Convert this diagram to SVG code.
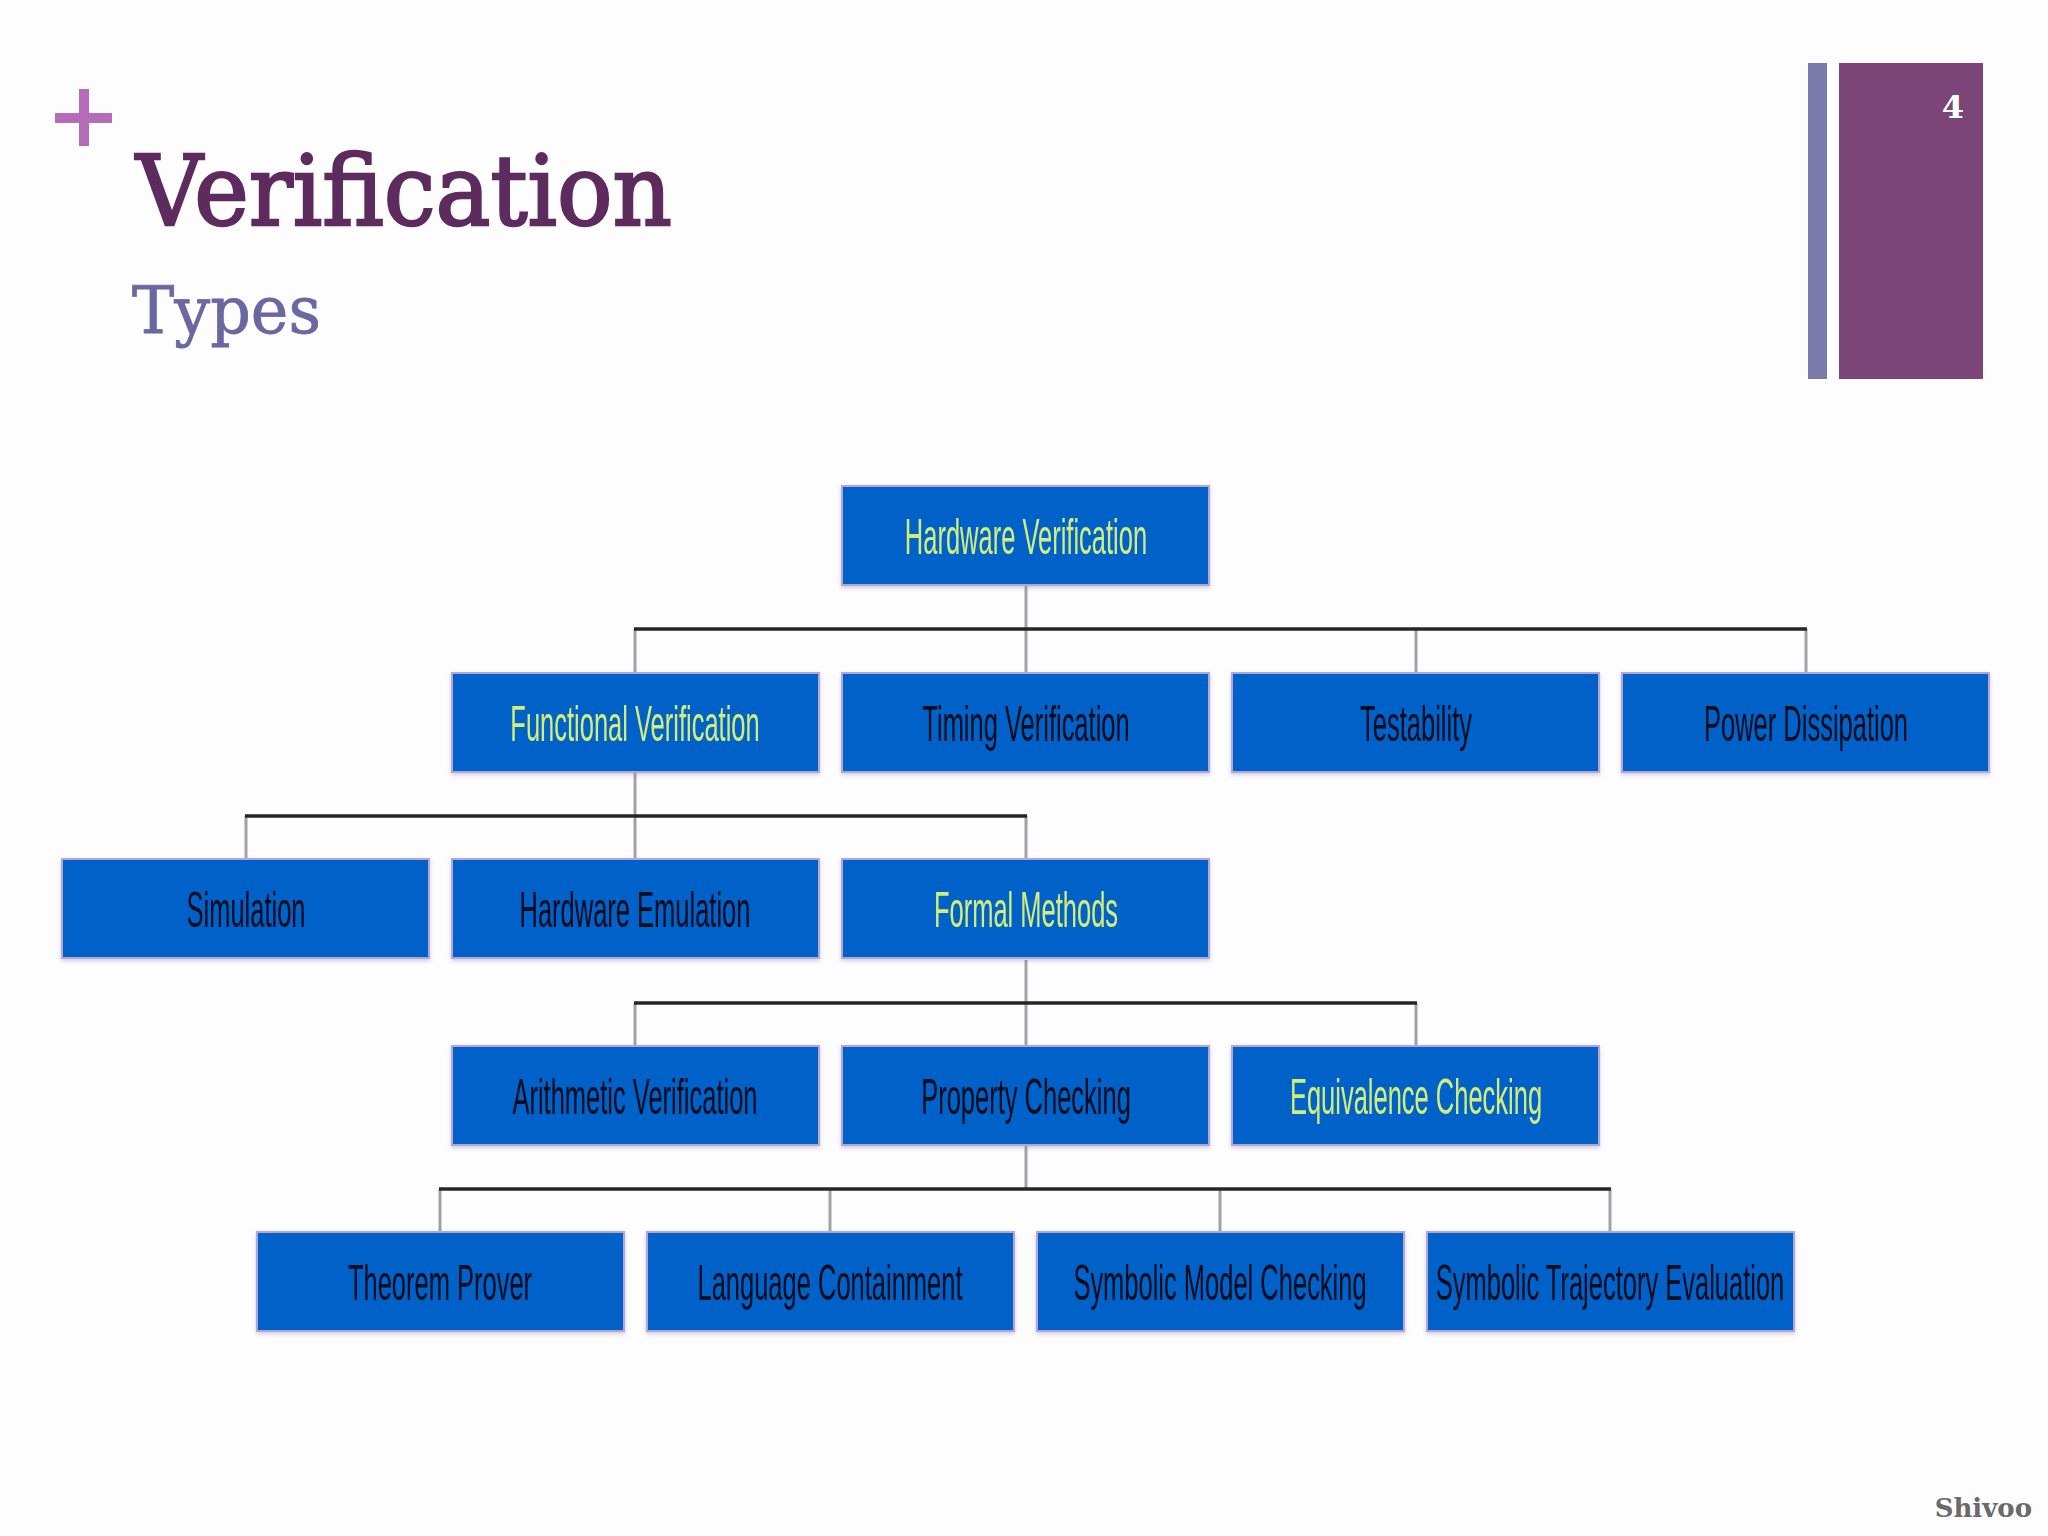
<svg xmlns="http://www.w3.org/2000/svg" width="2048" height="1536" viewBox="0 0 2048 1536">
  <style>
    .box { fill: #0562c8; stroke: #b2a6d4; stroke-width: 2; }
    .lbl { font-family: "Liberation Sans", Arial, sans-serif; font-size: 50px; text-anchor: middle; }
    .dark { fill: #050a1a; }
    .hl { fill: #d2ee78; }
    .hline { stroke: #262626; stroke-width: 3.5; fill: none; }
    .vline { stroke: #a2a2a6; stroke-width: 3; fill: none; }
  </style>
  <defs>
    <filter id="sh" x="-5%" y="-10%" width="110%" height="130%">
      <feDropShadow dx="0" dy="2" stdDeviation="2" flood-color="#8070a0" flood-opacity="0.35"/>
    </filter>
  </defs>
  <rect x="0" y="0" width="2048" height="1536" fill="#fdfdfe"/>

  <!-- header -->
  <g id="header">
    <rect x="55" y="113" width="57" height="10" fill="#b56cb8"/>
    <rect x="79" y="89" width="10" height="57" fill="#b56cb8"/>
    <text x="136" y="225" font-family="'DejaVu Serif', serif" font-size="97" fill="#5e2b5f" stroke="#5e2b5f" stroke-width="2.5" textLength="536" lengthAdjust="spacingAndGlyphs">Verification</text>
    <text x="132" y="333" font-family="'DejaVu Serif', serif" font-size="66" fill="#6a67a1" stroke="#6a67a1" stroke-width="0.8" textLength="189" lengthAdjust="spacingAndGlyphs">Types</text>
    <rect x="1808" y="63" width="19" height="316" fill="#7b7bab"/>
    <rect x="1839" y="63" width="144" height="316" fill="#7b4577"/>
    <text x="1953" y="118" font-family="'DejaVu Serif', serif" font-size="32" font-weight="bold" fill="#ffffff" text-anchor="middle">4</text>
    <text x="2032" y="1517" font-family="'DejaVu Serif', serif" font-size="26" font-weight="bold" fill="#6a6a6a" text-anchor="end">Shivoo</text>
  </g>

  <!-- connectors -->
  <g id="connectors">
    <!-- level 1 -> 2 -->
    <line class="vline" x1="1026" y1="586" x2="1026" y2="672"/>
    <line class="vline" x1="635" y1="629" x2="635" y2="672"/>
    <line class="vline" x1="1416" y1="629" x2="1416" y2="672"/>
    <line class="vline" x1="1806" y1="629" x2="1806" y2="672"/>
    <line class="hline" x1="634" y1="629" x2="1807" y2="629"/>
    <!-- level 2 -> 3 -->
    <line class="vline" x1="635" y1="773" x2="635" y2="858"/>
    <line class="vline" x1="246" y1="816" x2="246" y2="858"/>
    <line class="vline" x1="1026" y1="816" x2="1026" y2="858"/>
    <line class="hline" x1="245" y1="816" x2="1027" y2="816"/>
    <!-- level 3 -> 4 -->
    <line class="vline" x1="1026" y1="960" x2="1026" y2="1045"/>
    <line class="vline" x1="635" y1="1003" x2="635" y2="1045"/>
    <line class="vline" x1="1416" y1="1003" x2="1416" y2="1045"/>
    <line class="hline" x1="634" y1="1003" x2="1417" y2="1003"/>
    <!-- level 4 -> 5 -->
    <line class="vline" x1="1026" y1="1146" x2="1026" y2="1189"/>
    <line class="vline" x1="440" y1="1189" x2="440" y2="1231"/>
    <line class="vline" x1="830" y1="1189" x2="830" y2="1231"/>
    <line class="vline" x1="1220" y1="1189" x2="1220" y2="1231"/>
    <line class="vline" x1="1610" y1="1189" x2="1610" y2="1231"/>
    <line class="hline" x1="439" y1="1189" x2="1611" y2="1189"/>
  </g>

  <!-- nodes -->
  <g id="n-hardware-verification" filter="url(#sh)">
    <rect class="box" x="842" y="486" width="367" height="99"/>
    <text class="lbl hl" transform="translate(1026,554) scale(0.51,1)">Hardware Verification</text>
  </g>

  <g id="n-functional-verification" filter="url(#sh)">
    <rect class="box" x="452" y="673" width="367" height="99"/>
    <text class="lbl hl" transform="translate(635,741) scale(0.51,1)">Functional Verification</text>
  </g>
  <g id="n-timing-verification" filter="url(#sh)">
    <rect class="box" x="842" y="673" width="367" height="99"/>
    <text class="lbl dark" transform="translate(1026,741) scale(0.51,1)">Timing Verification</text>
  </g>
  <g id="n-testability" filter="url(#sh)">
    <rect class="box" x="1232" y="673" width="367" height="99"/>
    <text class="lbl dark" transform="translate(1416,741) scale(0.51,1)">Testability</text>
  </g>
  <g id="n-power-dissipation" filter="url(#sh)">
    <rect class="box" x="1622" y="673" width="367" height="99"/>
    <text class="lbl dark" transform="translate(1806,741) scale(0.51,1)">Power Dissipation</text>
  </g>

  <g id="n-simulation" filter="url(#sh)">
    <rect class="box" x="62" y="859" width="367" height="99"/>
    <text class="lbl dark" transform="translate(246,927) scale(0.51,1)">Simulation</text>
  </g>
  <g id="n-hardware-emulation" filter="url(#sh)">
    <rect class="box" x="452" y="859" width="367" height="99"/>
    <text class="lbl dark" transform="translate(635,927) scale(0.51,1)">Hardware Emulation</text>
  </g>
  <g id="n-formal-methods" filter="url(#sh)">
    <rect class="box" x="842" y="859" width="367" height="99"/>
    <text class="lbl hl" transform="translate(1026,927) scale(0.51,1)">Formal Methods</text>
  </g>

  <g id="n-arithmetic-verification" filter="url(#sh)">
    <rect class="box" x="452" y="1046" width="367" height="99"/>
    <text class="lbl dark" transform="translate(635,1114) scale(0.51,1)">Arithmetic Verification</text>
  </g>
  <g id="n-property-checking" filter="url(#sh)">
    <rect class="box" x="842" y="1046" width="367" height="99"/>
    <text class="lbl dark" transform="translate(1026,1114) scale(0.51,1)">Property Checking</text>
  </g>
  <g id="n-equivalence-checking" filter="url(#sh)">
    <rect class="box" x="1232" y="1046" width="367" height="99"/>
    <text class="lbl hl" transform="translate(1416,1114) scale(0.51,1)">Equivalence Checking</text>
  </g>

  <g id="n-theorem-prover" filter="url(#sh)">
    <rect class="box" x="257" y="1232" width="367" height="99"/>
    <text class="lbl dark" transform="translate(440,1300) scale(0.51,1)">Theorem Prover</text>
  </g>
  <g id="n-language-containment" filter="url(#sh)">
    <rect class="box" x="647" y="1232" width="367" height="99"/>
    <text class="lbl dark" transform="translate(830,1300) scale(0.51,1)">Language Containment</text>
  </g>
  <g id="n-symbolic-model-checking" filter="url(#sh)">
    <rect class="box" x="1037" y="1232" width="367" height="99"/>
    <text class="lbl dark" transform="translate(1220,1300) scale(0.51,1)">Symbolic Model Checking</text>
  </g>
  <g id="n-symbolic-trajectory-evaluation" filter="url(#sh)">
    <rect class="box" x="1427" y="1232" width="367" height="99"/>
    <text class="lbl dark" transform="translate(1610,1300) scale(0.51,1)">Symbolic Trajectory Evaluation</text>
  </g>
</svg>
